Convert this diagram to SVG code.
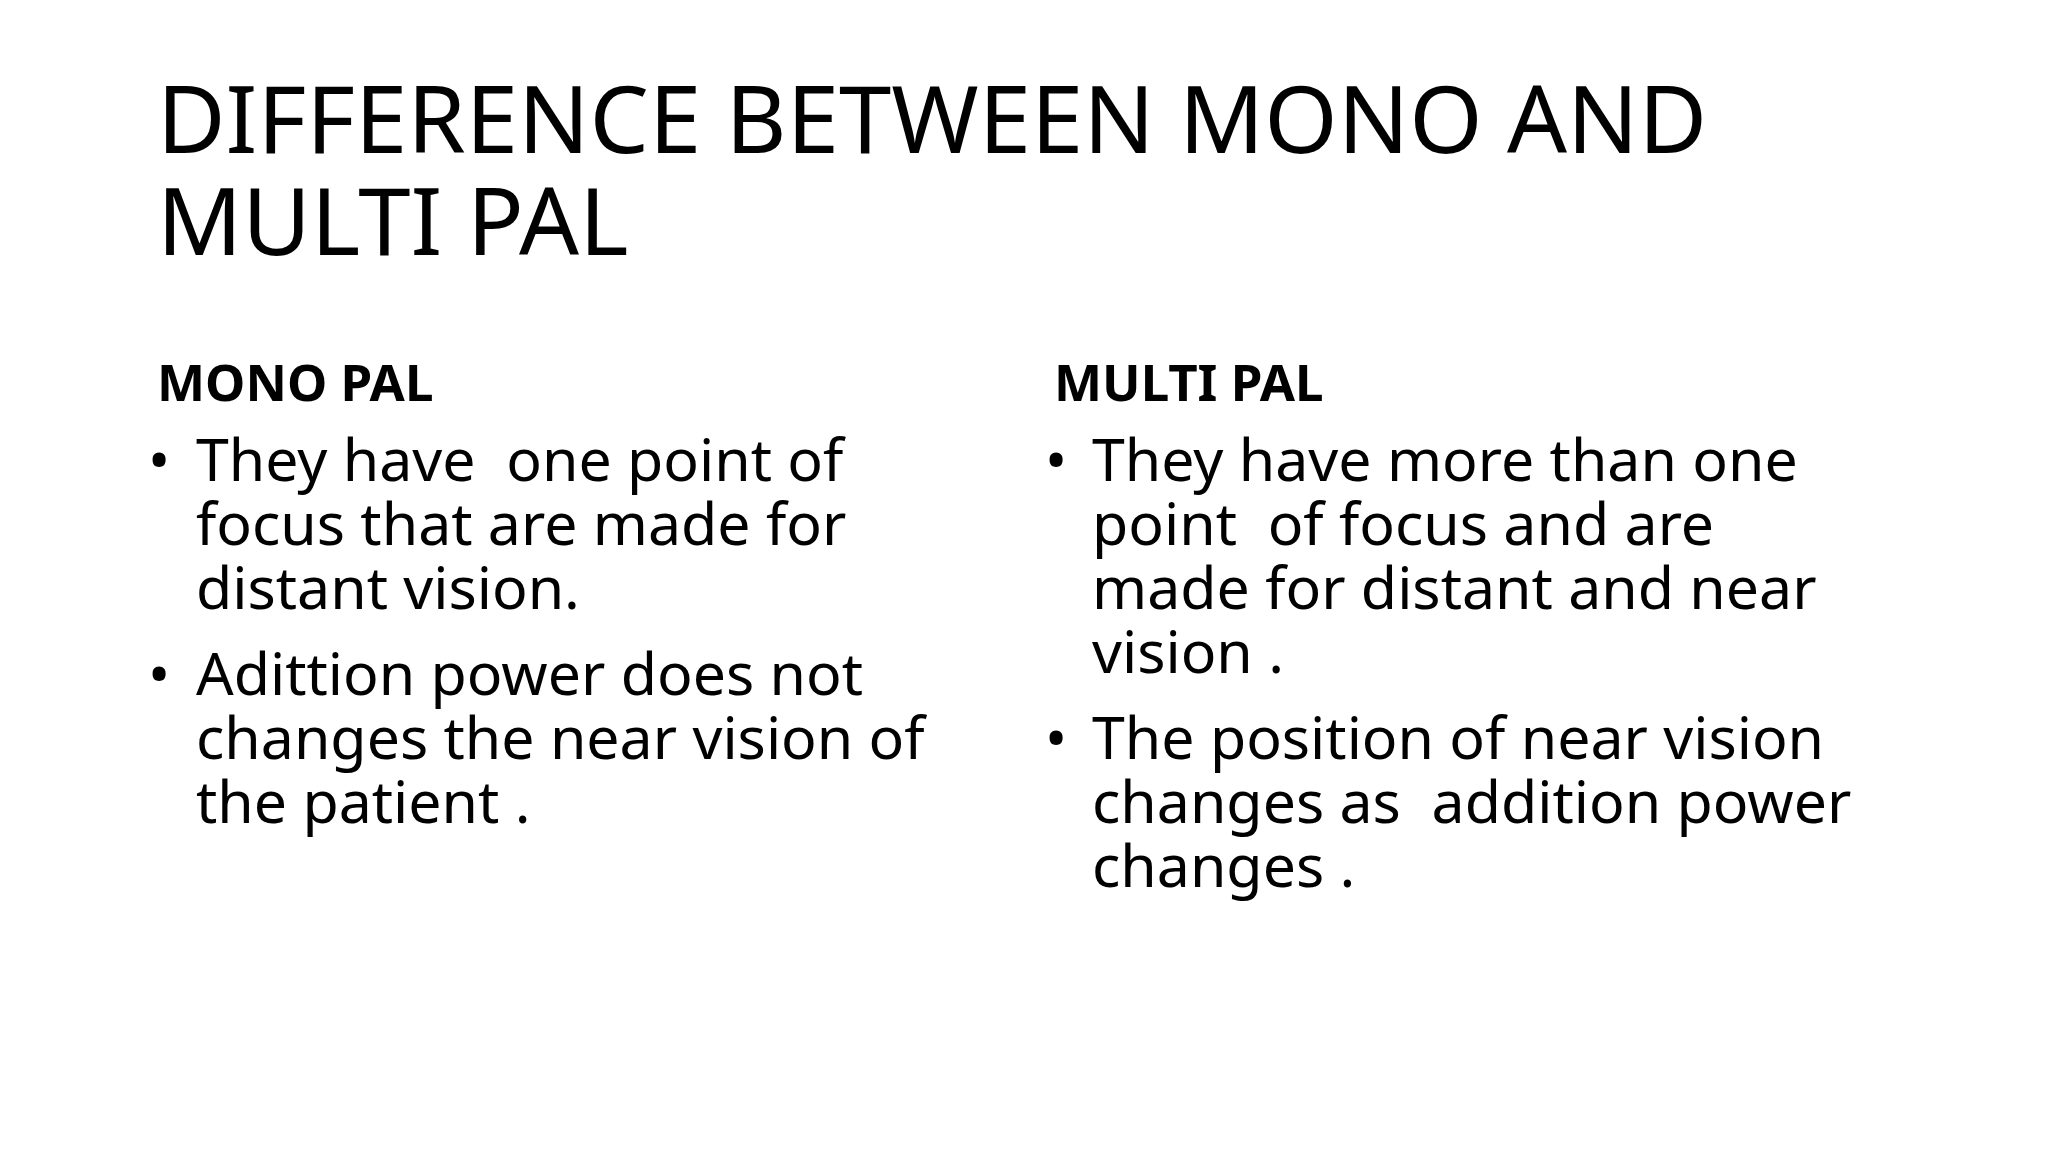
<svg xmlns="http://www.w3.org/2000/svg" width="2048" height="1152" viewBox="0 0 2048 1152" xml:space="preserve">
<style>
text{font-family:"Noto Sans","Open Sans",sans-serif;fill:#000;white-space:pre}
.t{font-size:94px}
.h{font-size:51px;font-weight:bold}
.b{font-size:59px}
</style>
<rect width="2048" height="1152" fill="#fff"/>
<g id="title"><text class="t" x="157" y="153">DIFFERENCE BETWEEN MONO AND</text><text class="t" x="157" y="255">MULTI PAL</text></g>
<g id="left">
<text class="h" x="157" y="401">MONO PAL</text>
<text class="b" x="148" y="481">•</text>
<text class="b" x="196" y="481">They have  one point of</text>
<text class="b" x="196" y="545">focus that are made for</text>
<text class="b" x="196" y="609">distant vision.</text>
<text class="b" x="148" y="695">•</text>
<text class="b" x="196" y="695">Adittion power does not</text>
<text class="b" x="196" y="759">changes the near vision of</text>
<text class="b" x="196" y="823">the patient .</text>
</g>
<g id="right">
<text class="h" x="1054" y="401">MULTI PAL</text>
<text class="b" x="1045" y="481">•</text>
<text class="b" x="1092" y="481">They have more than one</text>
<text class="b" x="1092" y="545">point  of focus and are</text>
<text class="b" x="1092" y="609">made for distant and near</text>
<text class="b" x="1092" y="673">vision .</text>
<text class="b" x="1045" y="759">•</text>
<text class="b" x="1092" y="759">The position of near vision</text>
<text class="b" x="1092" y="823">changes as  addition power</text>
<text class="b" x="1092" y="887">changes .</text>
</g>
</svg>
